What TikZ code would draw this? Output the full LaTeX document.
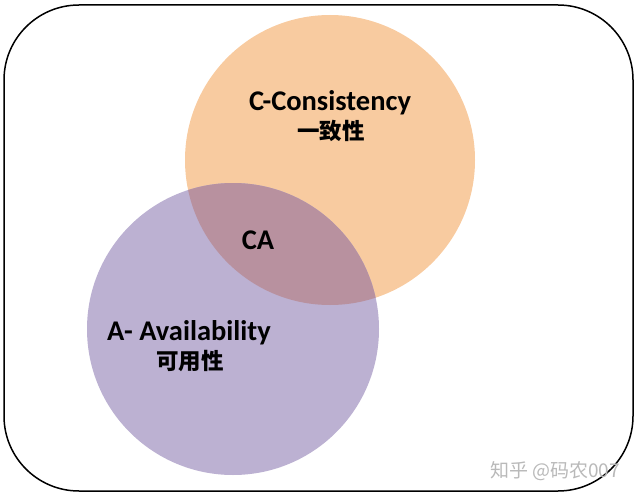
\documentclass[tikz,border=0pt]{standalone}
\usepackage{fontspec}
\setmainfont{Carlito}
\newfontfamily\cjk{Noto Sans CJK SC}
\usepackage{xcolor}
\definecolor{peach}{HTML}{F8CBA0}
\definecolor{lilac}{HTML}{BCB1D2}
\definecolor{mauve}{HTML}{B8919F}

\begin{document}
\begin{tikzpicture}[x=1pt,y=-1pt]
        \useasboundingbox (0,0) rectangle (637,500);
        \draw[black, line width=1.5pt, rounded corners=75pt] (4,5) rectangle (633,491);
        \fill[peach] (330,160) circle (145pt);
        \fill[lilac] (233,329) circle (146pt);
        \begin{scope}
            \clip (330,160) circle (145pt);
            \fill[mauve] (233,329) circle (146pt);
        \end{scope}
        \node[font=\bfseries\fontsize{28.5}{32}\selectfont] (cons) at (330,103) {C-Consistency};
        \node[font=\cjk\bfseries\fontsize{22.5}{26}\selectfont] (consz) at (331,131) {一致性};
        \node[font=\bfseries\fontsize{28.5}{32}\selectfont] (ca) at (258,240) {CA};
        \node[font=\bfseries\fontsize{28.5}{32}\selectfont] (avail) at (189,333) {A- Availability};
        \node[font=\cjk\bfseries\fontsize{22.5}{26}\selectfont] (availz) at (190,361) {可用性};
        \node[font=\cjk\fontsize{19}{22}\selectfont, gray!55] (mark) at (555,471) {知乎 @码农007};
    \end{tikzpicture}
\end{document}
